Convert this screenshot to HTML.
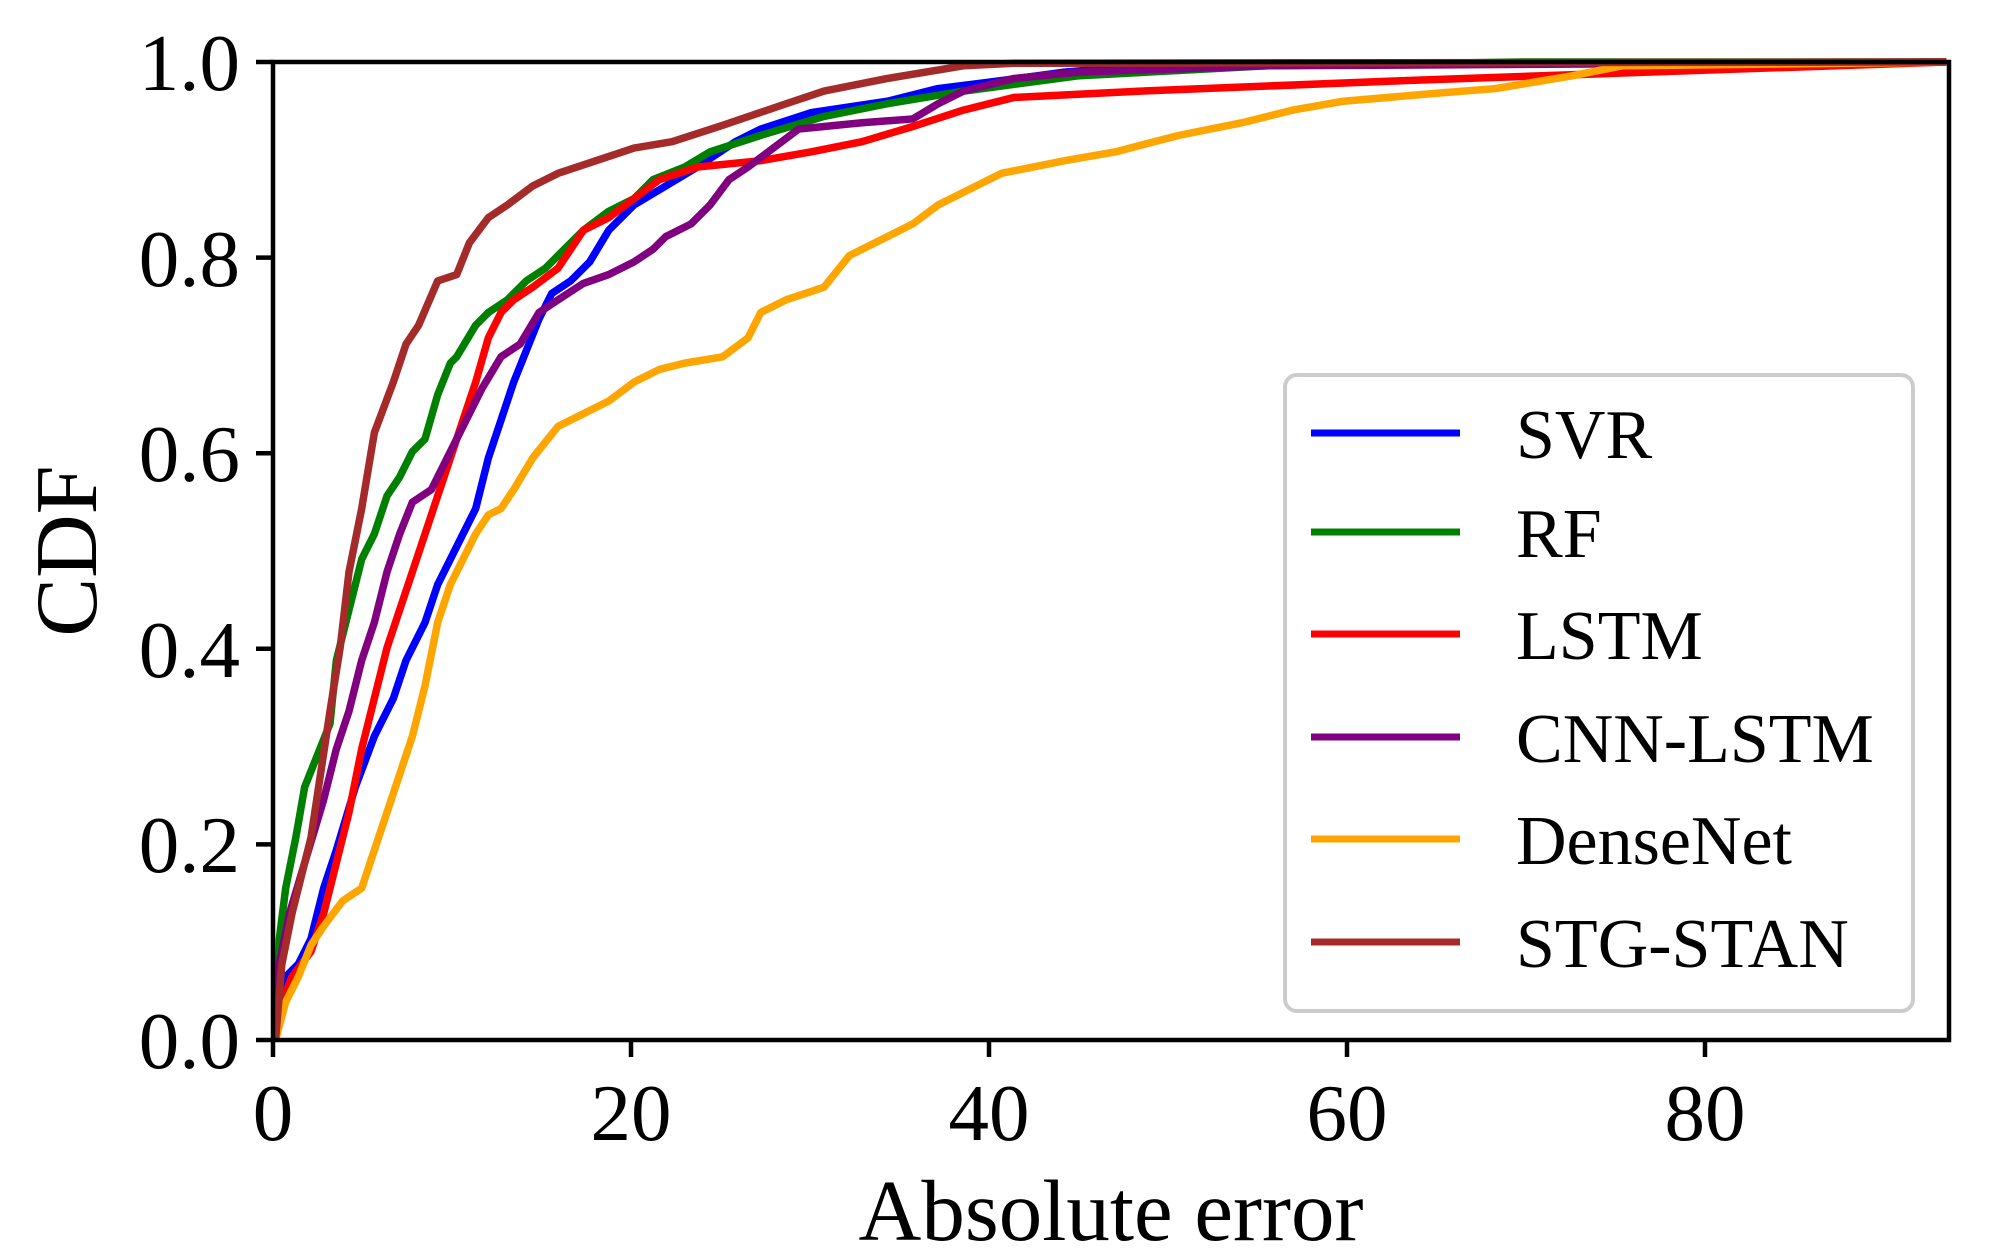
<!DOCTYPE html>
<html><head><style>html,body{margin:0;padding:0;background:#fff}svg{display:block}</style></head>
<body>
<svg width="1989" height="1260" viewBox="0 0 1989 1260" xmlns="http://www.w3.org/2000/svg" font-family="'Liberation Serif', serif">
<rect width="1989" height="1260" fill="#fff"/>
<g fill="none" stroke-width="7.5" stroke-linejoin="round">
<g transform="translate(273,1040) scale(1.2668,1.2652) translate(-215,-820)">
<polyline vector-effect="non-scaling-stroke" stroke="#0000ff" points="217,820 225,770 235,760 245,740 255,700 265,670 280,620 295,580 310,550 320,520 335,490 345,460 360,430 375,400 385,360 395,330 405,300 415,275 425,250 435,230 450,220 465,205 480,180 500,160 520,148 550,130 580,110 600,100 640,87 700,78 740,68 780,63 840,55 900,50 1536,47"/>
<polyline vector-effect="non-scaling-stroke" stroke="#008000" points="217,820 220,740 225,700 233,660 240,620 248,600 260,570 265,520 275,480 285,440 295,420 305,390 315,375 325,355 335,345 345,310 355,285 360,280 375,255 385,245 400,235 415,220 430,210 440,200 460,180 480,165 500,155 515,140 540,130 560,118 600,105 650,90 700,80 760,70 850,58 1000,50 1200,47 1536,47"/>
<polyline vector-effect="non-scaling-stroke" stroke="#ff0000" points="217,820 222,790 230,770 245,750 255,720 265,680 275,640 285,590 295,550 305,510 315,480 325,450 335,420 345,390 355,360 365,330 375,300 385,265 395,245 405,235 420,225 440,210 460,180 480,170 500,155 520,140 550,130 600,125 640,118 680,110 720,98 760,85 800,75 900,70 1100,62 1300,55 1536,47"/>
<polyline vector-effect="non-scaling-stroke" stroke="#800080" points="217,820 220,760 228,720 240,680 255,630 265,590 275,560 285,520 295,490 305,450 315,420 325,395 340,385 350,365 365,335 380,305 395,280 410,270 425,245 440,235 460,222 480,215 500,205 515,195 525,185 545,175 560,160 575,140 590,130 610,115 630,100 650,98 680,95 720,92 740,80 760,70 800,60 850,55 1000,50 1536,47"/>
<polyline vector-effect="non-scaling-stroke" stroke="#ffa500" points="217,820 225,790 235,770 245,745 255,730 270,710 285,700 295,670 305,640 315,610 325,580 335,540 345,490 355,460 365,440 375,420 385,405 395,400 405,385 420,360 440,335 460,325 480,315 500,300 520,290 540,285 570,280 590,265 600,245 620,235 650,225 670,200 700,185 720,175 740,160 760,150 790,135 840,125 880,118 930,105 980,95 1020,85 1060,78 1130,72 1180,68 1240,58 1280,50 1536,47"/>
<polyline vector-effect="non-scaling-stroke" stroke="#a52a2a" points="217,820 222,760 230,720 245,660 260,560 268,510 275,450 285,400 295,340 310,300 320,270 330,255 345,220 360,215 370,190 385,170 400,160 420,145 440,135 470,125 500,115 530,110 570,97 620,80 650,70 700,60 760,50 800,48 1536,47"/>
</g>
</g>
<rect x="273" y="62" width="1676" height="978" fill="none" stroke="#000" stroke-width="4.5"/>
<g stroke="#000" stroke-width="4.5">
<line x1="256" y1="1040" x2="273" y2="1040"/><line x1="256" y1="844.4" x2="273" y2="844.4"/><line x1="256" y1="648.8" x2="273" y2="648.8"/><line x1="256" y1="453.2" x2="273" y2="453.2"/><line x1="256" y1="257.6" x2="273" y2="257.6"/><line x1="256" y1="62" x2="273" y2="62"/>
<line x1="273" y1="1040" x2="273" y2="1057"/><line x1="631" y1="1040" x2="631" y2="1057"/><line x1="989" y1="1040" x2="989" y2="1057"/><line x1="1347" y1="1040" x2="1347" y2="1057"/><line x1="1705" y1="1040" x2="1705" y2="1057"/>
</g>
<g font-size="81" fill="#000" text-anchor="end">
<text x="240" y="1068">0.0</text><text x="240" y="872">0.2</text><text x="240" y="677">0.4</text><text x="240" y="481">0.6</text><text x="240" y="286">0.8</text><text x="240" y="90">1.0</text>
</g>
<g font-size="81" fill="#000" text-anchor="middle">
<text x="273" y="1140">0</text><text x="631" y="1140">20</text><text x="989" y="1140">40</text><text x="1347" y="1140">60</text><text x="1705" y="1140">80</text>
<text x="1111" y="1240" font-size="87">Absolute error</text>
<text transform="translate(96,551) rotate(-90)" font-size="88">CDF</text>
</g>
<rect x="1285" y="375" width="628" height="636" rx="12" fill="#fff" fill-opacity="0.8" stroke="#cccccc" stroke-width="4"/>
<g stroke-width="7">
<line x1="1311" y1="433" x2="1460" y2="433" stroke="#0000ff"/>
<line x1="1311" y1="532" x2="1460" y2="532" stroke="#008000"/>
<line x1="1311" y1="634" x2="1460" y2="634" stroke="#ff0000"/>
<line x1="1311" y1="737" x2="1460" y2="737" stroke="#800080"/>
<line x1="1311" y1="839" x2="1460" y2="839" stroke="#ffa500"/>
<line x1="1311" y1="942" x2="1460" y2="942" stroke="#a52a2a"/>
</g>
<g font-size="70" fill="#000">
<text x="1516" y="458">SVR</text><text x="1516" y="557">RF</text><text x="1516" y="659">LSTM</text><text x="1516" y="762">CNN-LSTM</text><text x="1516" y="864">DenseNet</text><text x="1516" y="967">STG-STAN</text>
</g>
</svg>
</body></html>
